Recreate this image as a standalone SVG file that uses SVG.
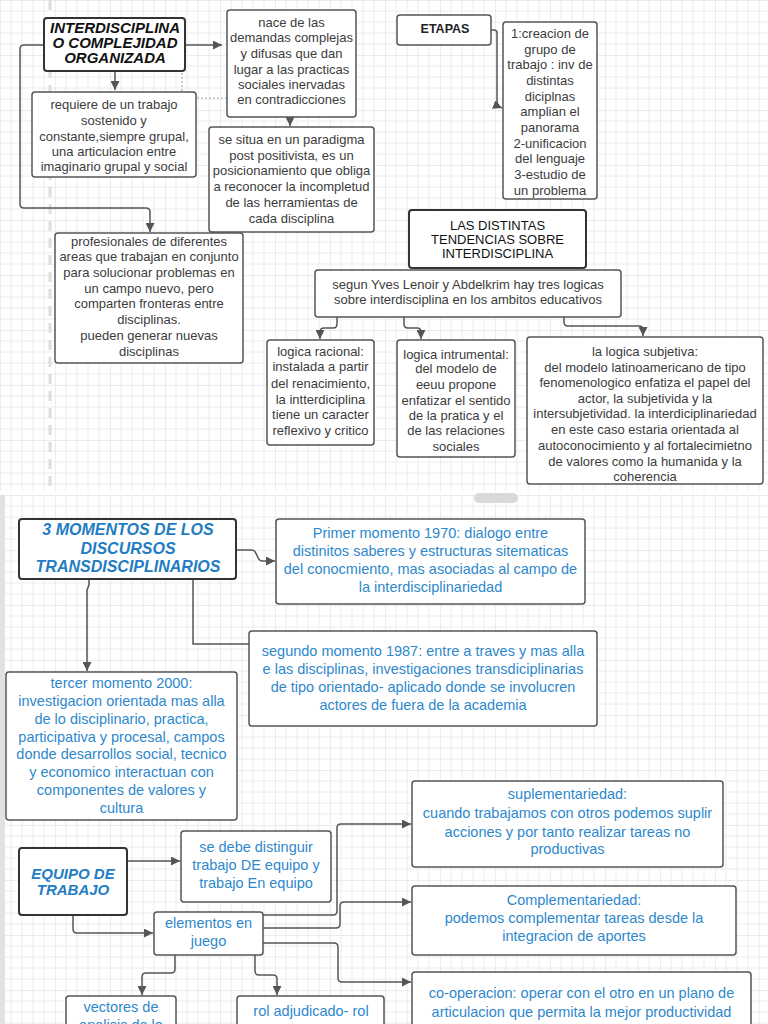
<svg xmlns="http://www.w3.org/2000/svg" width="768" height="1024" viewBox="0 0 768 1024">
<style>
.box{fill:#fff;stroke:#555;stroke-width:1.5}
.hbox{fill:#fff;stroke:#333;stroke-width:2}
.t{font-family:"Liberation Sans",Arial,sans-serif;font-size:13px;fill:#3c3c3c;text-anchor:middle}
.b{font-family:"Liberation Sans",Arial,sans-serif;font-size:14.5px;fill:#2e88cc;text-anchor:middle}
.h{font-family:"Liberation Sans",Arial,sans-serif;font-weight:bold;font-style:italic;fill:#111;text-anchor:middle}
.hu{font-family:"Liberation Sans",Arial,sans-serif;font-weight:bold;fill:#222;text-anchor:middle}
.hn{font-family:"Liberation Sans",Arial,sans-serif;font-size:13px;fill:#111;text-anchor:middle}
.hb{font-family:"Liberation Sans",Arial,sans-serif;font-weight:bold;font-style:italic;fill:#1f7dc4;text-anchor:middle}
.c{fill:none;stroke:#555;stroke-width:1.5}
.d{fill:none;stroke:#aaa;stroke-width:1.2;stroke-dasharray:2 2}
</style>
<defs>
<pattern id="grid" width="55" height="55" patternUnits="userSpaceOnUse">
<path d="M11 0V55M22 0V55M33 0V55M44 0V55M0 11H55M0 22H55M0 33H55M0 44H55" stroke="#ececec" stroke-width="1" fill="none"/>
<path d="M0 0V55M0 0H55" stroke="#d9d9d9" stroke-width="1" fill="none"/>
</pattern>
<marker id="ar" markerUnits="userSpaceOnUse" markerWidth="9" markerHeight="9" refX="9" refY="4.5" orient="auto">
<path d="M0,0 L9,4.5 L0,9 z" fill="#555"/>
</marker>
</defs>
<rect width="768" height="1024" fill="#fff"/>
<rect width="768" height="1024" fill="url(#grid)"/>
<line x1="50" y1="0" x2="50" y2="490" stroke="#ddd" stroke-width="3" stroke-dasharray="10 7"/>
<rect x="0" y="491" width="768" height="4" fill="#fff"/>
<rect x="0" y="495" width="5" height="529" fill="#e2e2e2"/>
<rect x="474" y="493" width="44" height="10" rx="5" fill="#d9d9d9"/>

<g id="connectors">
<path class="c" d="M185,45 H222" marker-end="url(#ar)"/>
<path class="c" d="M115,71 V90" marker-end="url(#ar)"/>
<path class="d" d="M182,73 V98 H290 V118"/>
<path class="c" d="M290,117 V126" marker-end="url(#ar)"/>
<path class="c" d="M44,45 H24 Q20,45 20,49 V204 Q20,208 24,208 H146 Q150,208 150,212 V232" marker-end="url(#ar)"/>
<path class="c" d="M491,30 H494 Q497,30 497,33 V100 Q497,106 502,108" marker-end="url(#ar)"/>
<path class="c" d="M337,317 V324 Q337,328 333,328 H324 Q320,328 320,332 V339" marker-end="url(#ar)"/>
<path class="c" d="M404,317 V324 Q404,328 408,328 H417 Q421,328 421,332 V339" marker-end="url(#ar)"/>
<path class="c" d="M564,317 V322 Q564,326 568,326 H639 Q643,326 643,330 V336" marker-end="url(#ar)"/>
<path class="c" d="M236,550 H252 C258,550 256,561 262,561 H275" marker-end="url(#ar)"/>
<path class="c" d="M193,579 V644 H249"/>
<path class="c" d="M89,579 V585 L87,590 V671" marker-end="url(#ar)"/>
<path class="c" d="M127,861 H180" marker-end="url(#ar)"/>
<path class="c" d="M73,915 V929 Q73,933 77,933 H153" marker-end="url(#ar)"/>
<path class="c" d="M263,915 H333 Q337,915 337,911 V828 Q337,824 341,824 H411" marker-end="url(#ar)"/>
<path class="c" d="M263,928 H336 Q340,928 340,924 V906 Q340,902 344,902 H411" marker-end="url(#ar)"/>
<path class="c" d="M263,943 H334 Q338,943 338,947 V978 Q338,982 342,982 H411" marker-end="url(#ar)"/>
<path class="c" d="M175,955 V969 Q175,973 171,973 H146 Q142,973 142,977 V995" marker-end="url(#ar)"/>
<path class="c" d="M255,955 V971 Q255,975 259,975 H273 Q277,975 277,979 V995" marker-end="url(#ar)"/>
</g>

<g id="interdisciplina">
<rect class="hbox" x="44" y="18" width="141" height="53" rx="3"/>
<text class="h" font-size="15"><tspan x="115" y="33">INTERDISCIPLINA</tspan><tspan x="115" y="48">O COMPLEJIDAD</tspan><tspan x="115" y="63">ORGANIZADA</tspan></text>
</g>
<g id="nace">
<rect class="box" x="227" y="10" width="129" height="107" rx="3"/>
<text class="t"><tspan x="291.5" y="26.5">nace de las</tspan><tspan x="291.5" y="42">demandas complejas</tspan><tspan x="291.5" y="58">y difusas que dan</tspan><tspan x="291.5" y="73.5">lugar a las practicas</tspan><tspan x="291.5" y="88.5">sociales inervadas</tspan><tspan x="291.5" y="104">en contradicciones</tspan></text>
</g>
<g id="requiere">
<rect class="box" x="32" y="92" width="164" height="85" rx="3"/>
<text class="t"><tspan x="114" y="108.5">requiere de un trabajo</tspan><tspan x="114" y="124.5">sostenido y</tspan><tspan x="114" y="140.5">constante,siempre grupal,</tspan><tspan x="114" y="156">una articulacion entre</tspan><tspan x="114" y="171">imaginario grupal y social</tspan></text>
</g>
<g id="paradigma">
<rect class="box" x="209" y="127" width="165" height="105" rx="3"/>
<text class="t"><tspan x="291.5" y="144">se situa en un paradigma</tspan><tspan x="291.5" y="159.5">post positivista, es un</tspan><tspan x="291.5" y="175">posicionamiento que obliga</tspan><tspan x="291.5" y="191">a reconocer la incompletud</tspan><tspan x="291.5" y="207">de las herramientas de</tspan><tspan x="291.5" y="223">cada disciplina</tspan></text>
</g>
<g id="profesionales">
<rect class="box" x="55" y="233" width="188" height="130" rx="3"/>
<text class="t"><tspan x="149" y="246">profesionales de diferentes</tspan><tspan x="149" y="261">areas que trabajan en conjunto</tspan><tspan x="149" y="277">para solucionar problemas en</tspan><tspan x="149" y="293">un campo nuevo, pero</tspan><tspan x="149" y="308">comparten fronteras entre</tspan><tspan x="149" y="324">disciplinas.</tspan><tspan x="149" y="340">pueden generar nuevas</tspan><tspan x="149" y="355.5">disciplinas</tspan></text>
</g>
<g id="etapas">
<rect class="box" x="397" y="15" width="94" height="30" rx="3"/>
<text class="hu" font-size="12.5" x="445" y="33">ETAPAS</text>
</g>
<g id="etapas-lista">
<rect class="box" x="503" y="22" width="94" height="177" rx="3"/>
<text class="t"><tspan x="550" y="38">1:creacion de</tspan><tspan x="550" y="54">grupo de</tspan><tspan x="550" y="69">trabajo : inv de</tspan><tspan x="550" y="84.5">distintas</tspan><tspan x="550" y="100.5">diciplnas</tspan><tspan x="550" y="116">amplian el</tspan><tspan x="550" y="132">panorama</tspan><tspan x="550" y="148">2-unificacion</tspan><tspan x="550" y="163">del lenguaje</tspan><tspan x="550" y="178.5">3-estudio de</tspan><tspan x="550" y="195">un problema</tspan></text>
</g>
<g id="tendencias">
<rect class="hbox" x="409" y="210" width="177" height="58" rx="3"/>
<text class="hn"><tspan x="497.5" y="230">LAS DISTINTAS</tspan><tspan x="497.5" y="244">TENDENCIAS SOBRE</tspan><tspan x="497.5" y="258">INTERDISCIPLINA</tspan></text>
</g>
<g id="segun">
<rect class="box" x="315" y="270" width="306" height="47" rx="3"/>
<text class="t"><tspan x="468" y="289">segun Yves Lenoir y Abdelkrim hay tres logicas</tspan><tspan x="468" y="304">sobre interdisciplina en los ambitos educativos</tspan></text>
</g>
<g id="racional">
<rect class="box" x="267" y="340" width="107" height="105" rx="3"/>
<text class="t"><tspan x="320.5" y="356">logica racional:</tspan><tspan x="320.5" y="371">instalada a partir</tspan><tspan x="320.5" y="388">del renacimiento,</tspan><tspan x="320.5" y="403.5">la intterdiciplina</tspan><tspan x="320.5" y="419">tiene un caracter</tspan><tspan x="320.5" y="434.5">reflexivo y critico</tspan></text>
</g>
<g id="instrumental">
<rect class="box" x="397" y="340" width="118" height="117" rx="3"/>
<text class="t"><tspan x="456" y="358.5">logica intrumental:</tspan><tspan x="456" y="373">del modelo de</tspan><tspan x="456" y="389">eeuu propone</tspan><tspan x="456" y="404.5">enfatizar el sentido</tspan><tspan x="456" y="419.5">de la pratica y el</tspan><tspan x="456" y="435">de las relaciones</tspan><tspan x="456" y="451">sociales</tspan></text>
</g>
<g id="subjetiva">
<rect class="box" x="527" y="337" width="236" height="147" rx="3"/>
<text class="t"><tspan x="645" y="356">la logica subjetiva:</tspan><tspan x="645" y="372">del modelo latinoamericano de tipo</tspan><tspan x="645" y="387">fenomenologico enfatiza el papel del</tspan><tspan x="645" y="403">actor, la subjetivida y la</tspan><tspan x="645" y="418">intersubjetividad. la interdiciplinariedad</tspan><tspan x="645" y="434">en este caso estaria orientada al</tspan><tspan x="645" y="449.5">autoconocimiento y al fortalecimietno</tspan><tspan x="645" y="465.5">de valores como la humanida y la</tspan><tspan x="645" y="481">coherencia</tspan></text>
</g>

<g id="momentos">
<rect class="hbox" x="19" y="519" width="217" height="60" rx="3"/>
<text class="hb" font-size="16"><tspan x="128" y="535">3 MOMENTOS DE LOS</tspan><tspan x="128" y="554">DISCURSOS</tspan><tspan x="128" y="572">TRANSDISCIPLINARIOS</tspan></text>
</g>
<g id="primer">
<rect class="box" x="276" y="519" width="309" height="85" rx="3"/>
<text class="b"><tspan x="430.5" y="538">Primer momento 1970: dialogo entre</tspan><tspan x="430.5" y="556">distinitos saberes y estructuras sitematicas</tspan><tspan x="430.5" y="574">del conocmiento, mas asociadas al campo de</tspan><tspan x="430.5" y="592">la interdisciplinariedad</tspan></text>
</g>
<g id="segundo">
<rect class="box" x="249" y="631" width="348" height="95" rx="3"/>
<text class="b"><tspan x="423" y="656">segundo momento 1987: entre a traves y mas alla</tspan><tspan x="423" y="674">e las disciplinas, investigaciones transdiciplinarias</tspan><tspan x="423" y="692">de tipo orientado- aplicado donde se involucren</tspan><tspan x="423" y="710">actores de fuera de la academia</tspan></text>
</g>
<g id="tercer">
<rect class="box" x="6" y="672" width="231" height="148" rx="3"/>
<text class="b"><tspan x="121.5" y="688">tercer momento 2000:</tspan><tspan x="121.5" y="706">investigacion orientada mas alla</tspan><tspan x="121.5" y="724">de lo disciplinario, practica,</tspan><tspan x="121.5" y="742">participativa y procesal, campos</tspan><tspan x="121.5" y="759">donde desarrollos social, tecnico</tspan><tspan x="121.5" y="777">y economico interactuan con</tspan><tspan x="121.5" y="795">componentes de valores y</tspan><tspan x="121.5" y="813">cultura</tspan></text>
</g>
<g id="equipo">
<rect class="hbox" x="19" y="848" width="108" height="67" rx="3"/>
<text class="hb" font-size="15"><tspan x="73" y="879">EQUIPO DE</tspan><tspan x="73" y="895">TRABAJO</tspan></text>
</g>
<g id="distinguir">
<rect class="box" x="181" y="831" width="150" height="71" rx="3"/>
<text class="b"><tspan x="256" y="852">se debe distinguir</tspan><tspan x="256" y="870">trabajo DE equipo y</tspan><tspan x="256" y="888">trabajo En equipo</tspan></text>
</g>
<g id="elementos">
<rect class="box" x="154" y="912" width="109" height="43" rx="3"/>
<text class="b"><tspan x="208.5" y="928">elementos en</tspan><tspan x="208.5" y="946">juego</tspan></text>
</g>
<g id="suplementariedad">
<rect class="box" x="412" y="781" width="311" height="86" rx="3"/>
<text class="b"><tspan x="567.5" y="799">suplementariedad:</tspan><tspan x="567.5" y="818">cuando trabajamos con otros podemos suplir</tspan><tspan x="567.5" y="837">acciones y por tanto realizar tareas no</tspan><tspan x="567.5" y="854">productivas</tspan></text>
</g>
<g id="complementariedad">
<rect class="box" x="412" y="886" width="324" height="69" rx="3"/>
<text class="b"><tspan x="574" y="905">Complementariedad:</tspan><tspan x="574" y="923">podemos complementar tareas desde la</tspan><tspan x="574" y="941">integracion de aportes</tspan></text>
</g>
<g id="cooperacion">
<rect class="box" x="412" y="972" width="339" height="70" rx="3"/>
<text class="b"><tspan x="581.5" y="998">co-operacion: operar con el otro en un plano de</tspan><tspan x="581.5" y="1017">articulacion que permita la mejor productividad</tspan></text>
</g>
<g id="vectores">
<rect class="box" x="66" y="996" width="110" height="50" rx="3"/>
<text class="b"><tspan x="121" y="1012">vectores de</tspan><tspan x="121" y="1030">analisis de lo</tspan></text>
</g>
<g id="rol">
<rect class="box" x="237" y="996" width="147" height="50" rx="3"/>
<text class="b" x="311" y="1016">rol adjudicado- rol</text>
</g>
</svg>
